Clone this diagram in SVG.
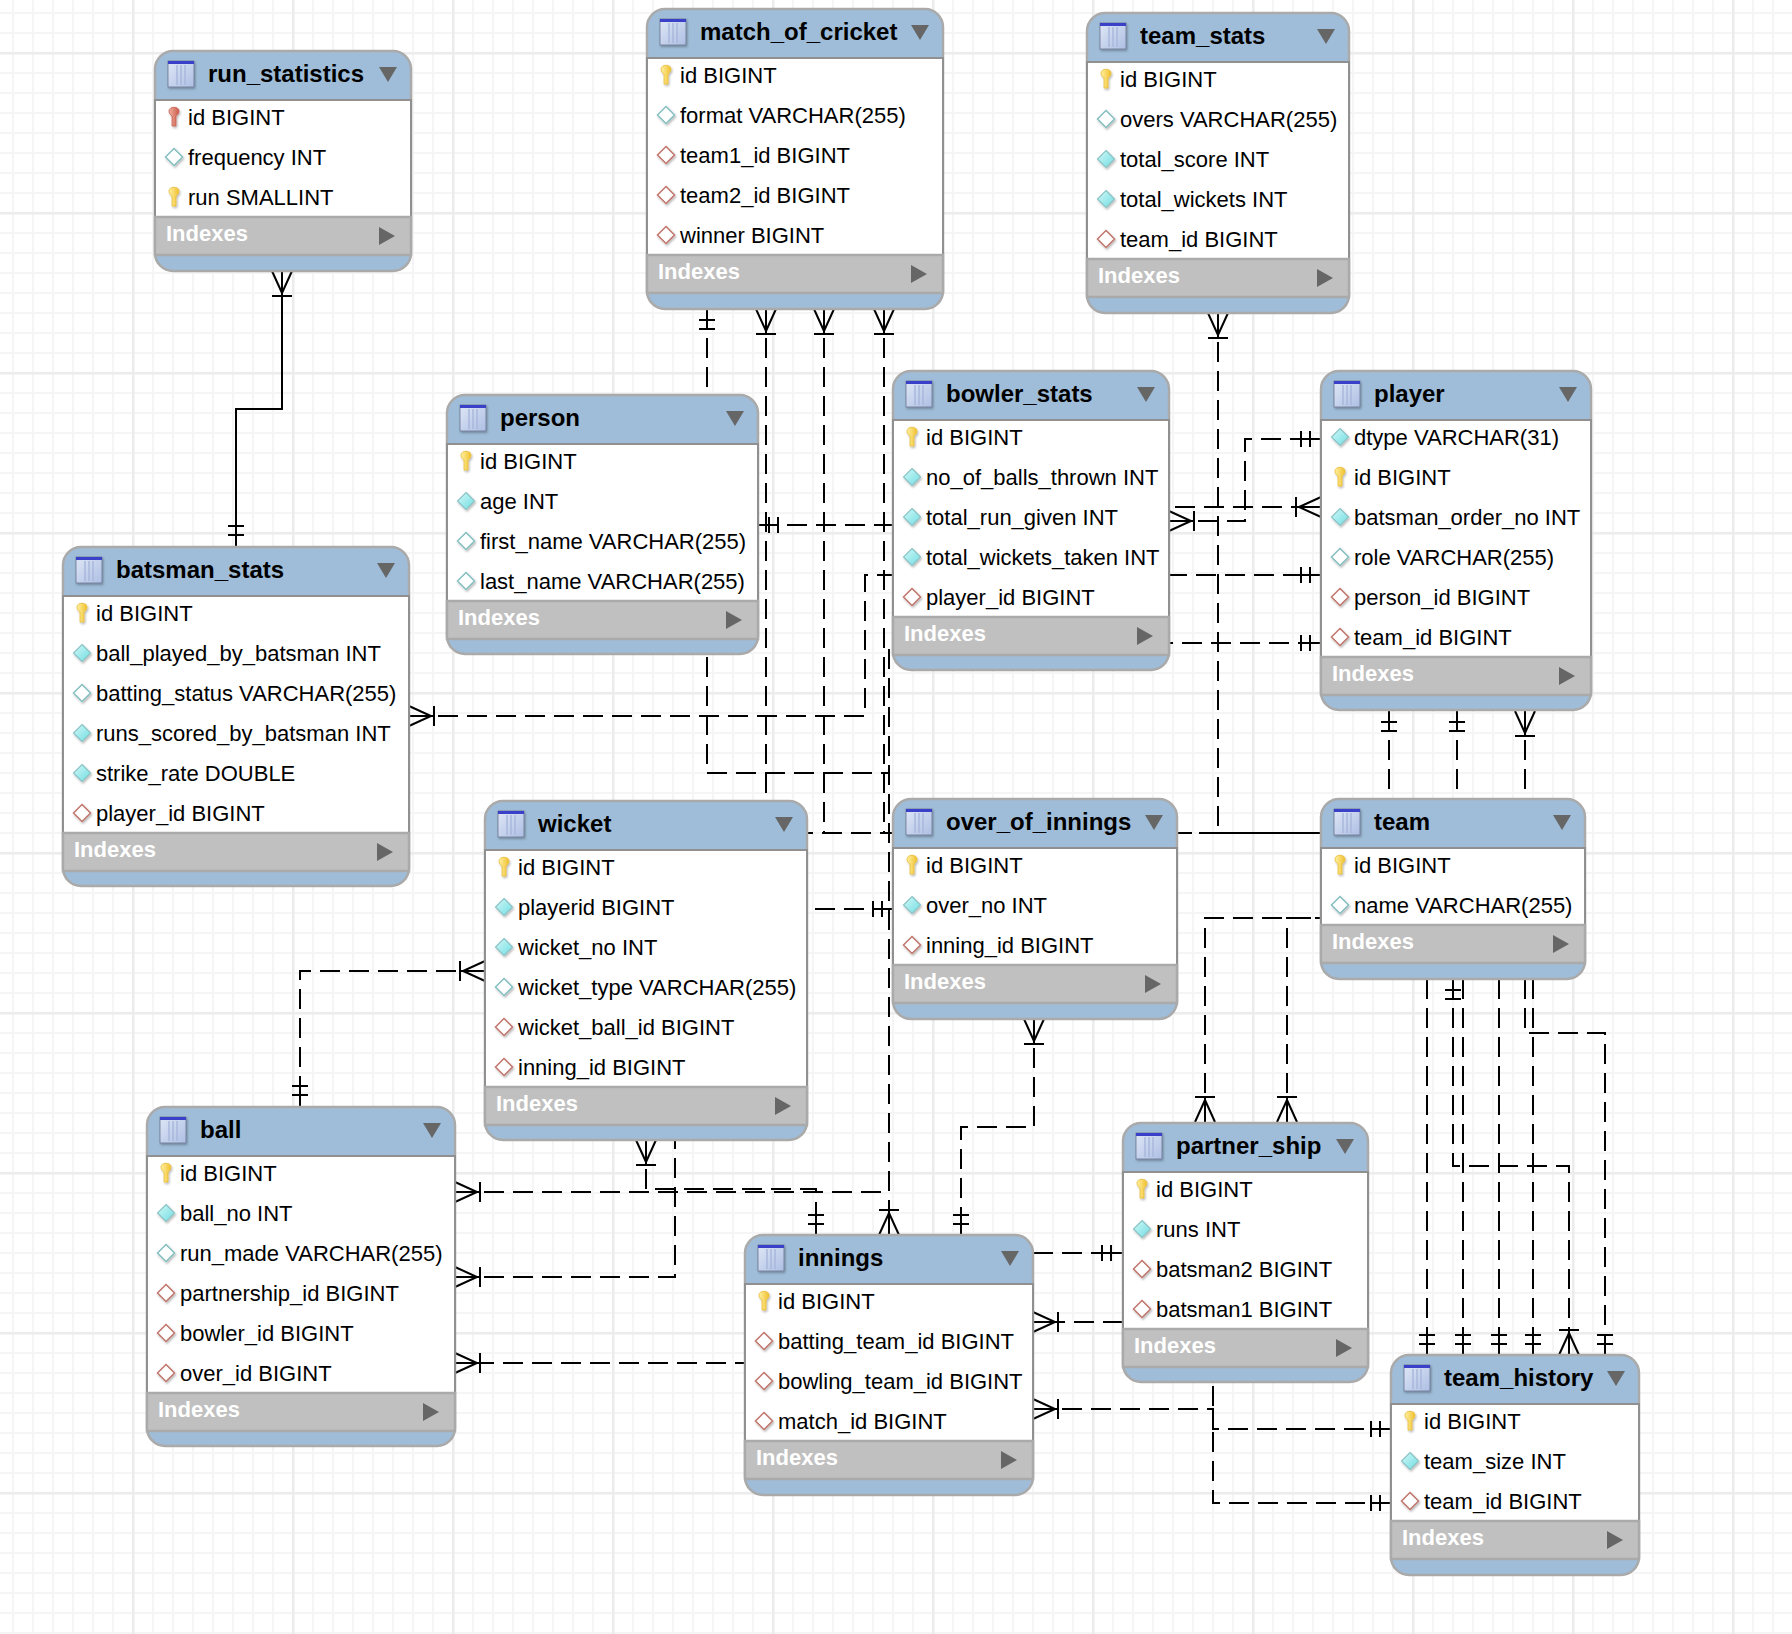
<svg xmlns="http://www.w3.org/2000/svg" width="1792" height="1634" viewBox="0 0 1792 1634">
<style>
.blue{fill:#9fbdd8;stroke:#aaaaaa;stroke-width:2.5}
.body{fill:#fff;stroke:#909090;stroke-width:2}
.idx{fill:#c0c0c0;stroke:#aaaaaa;stroke-width:2.5}
.t{font-family:"Liberation Sans",Arial,sans-serif;font-weight:bold;font-size:24px;fill:#000}
.r{font-family:"Liberation Sans",Arial,sans-serif;font-size:22px;fill:#000}
.x{font-family:"Liberation Sans",Arial,sans-serif;font-weight:bold;font-size:22px;fill:#fff}
.tri{fill:#666}
.c{fill:none;stroke:#000;stroke-width:2;stroke-dasharray:20 9}
.sol{fill:none;stroke:#000;stroke-width:2}
.mk{fill:none;stroke:#000;stroke-width:2}
</style>
<defs>
<pattern id="minor" patternUnits="userSpaceOnUse" x="12" y="12" width="20" height="20"><rect width="20" height="2" fill="#f5f5f5"/><rect width="2" height="20" fill="#f5f5f5"/></pattern>
<pattern id="major" patternUnits="userSpaceOnUse" x="132" y="52" width="160" height="160"><rect width="160" height="2.5" fill="#ececec"/><rect width="2.5" height="160" fill="#ececec"/></pattern>
<filter id="soft" x="-30%" y="-30%" width="170%" height="170%"><feDropShadow dx="1" dy="1.5" stdDeviation="1" flood-color="#000" flood-opacity=".3"/></filter>
<marker id="one" markerUnits="userSpaceOnUse" orient="auto-start-reverse" refX="0" refY="0" markerWidth="40" markerHeight="40" overflow="visible"><path class="mk" d="M0 0H-20M-11 -8V8M-20 -8V8"/></marker>
<marker id="many" markerUnits="userSpaceOnUse" orient="auto-start-reverse" refX="0" refY="0" markerWidth="40" markerHeight="40" overflow="visible"><path class="mk" d="M0 -10L-22 0L0 10M0 0H-25M-25 -10V10"/></marker>
<linearGradient id="ig" x1="0" y1="0" x2="1" y2="1"><stop offset="0" stop-color="#dfe7f6"/><stop offset="1" stop-color="#aebfe4"/></linearGradient>
<linearGradient id="kg" x1="0" y1="0" x2="1" y2="0"><stop offset="0" stop-color="#fff0a0"/><stop offset="1" stop-color="#f0c030"/></linearGradient>
<linearGradient id="pg" x1="0" y1="0" x2="1" y2="0"><stop offset="0" stop-color="#eeb0a0"/><stop offset="1" stop-color="#cc5a48"/></linearGradient>
<linearGradient id="fg" x1="0" y1="0" x2="1" y2="1"><stop offset="0" stop-color="#d4f8f8"/><stop offset="1" stop-color="#6fdde2"/></linearGradient>
<g id="tbl" filter="url(#soft)"><rect width="26" height="26" fill="url(#ig)" stroke="#6a7490" stroke-width=".8"/><rect width="26" height="3" fill="#3a3fc8"/><path d="M9 4V24M13 4V24M17 4V24" stroke="#a9b8dc" stroke-width="1.5" fill="none"/></g>
<g id="key" filter="url(#soft)"><path d="M-5 -6C-5 -11 5 -11 5 -6C5 -3 3 -2 2 -1L2 9L-2 9L-2 -1C-3 -2 -5 -3 -5 -6Z" fill="url(#kg)" stroke="#e8bc38" stroke-width=".8"/></g>
<g id="pk" filter="url(#soft)"><path d="M-5 -6C-5 -11 5 -11 5 -6C5 -3 3 -2 2 -1L2 9L-2 9L-2 -1C-3 -2 -5 -3 -5 -6Z" fill="url(#pg)" stroke="#c86050" stroke-width=".8"/></g>
<path id="df" d="M0 -8.5L8.5 0L0 8.5L-8.5 0Z" fill="url(#fg)" stroke="#8cc4c6" stroke-width="1.2" filter="url(#soft)"/>
<path id="dh" d="M0 -8.5L8.5 0L0 8.5L-8.5 0Z" fill="#fff" stroke="#86bfc0" stroke-width="1.5" filter="url(#soft)"/>
<path id="dr" d="M0 -8.5L8.5 0L0 8.5L-8.5 0Z" fill="#fff" stroke="#c0766c" stroke-width="1.5" filter="url(#soft)"/>
</defs>
<rect width="1792" height="1634" fill="#fff"/>
<rect width="1792" height="1634" fill="url(#minor)"/>
<rect width="1792" height="1634" fill="url(#major)"/>

<g id="connectors">
<path class="sol" marker-start="url(#many)" marker-end="url(#one)" d="M282 271V409H236V546"/>
<path class="c" marker-start="url(#one)" marker-end="url(#many)" d="M707 309V773H889V1235"/>
<path class="c" marker-start="url(#many)" d="M766 309V833H1321"/>
<path class="c" marker-start="url(#many)" d="M824 309V833H1321"/>
<path class="c" marker-start="url(#many)" d="M884 309V833H1321"/>
<path class="c" marker-start="url(#many)" d="M1218 313V833H1321"/>
<path class="c" marker-start="url(#one)" marker-end="url(#many)" d="M758 525H1030V507H1321"/>
<path class="c" marker-start="url(#many)" marker-end="url(#one)" d="M1169 521H1245V439H1321"/>
<path class="c" marker-start="url(#many)" marker-end="url(#one)" d="M409 716H865V575H1321"/>
<path class="c" marker-start="url(#many)" marker-end="url(#one)" d="M455 1192H889V643H1321"/>
<path class="c" marker-start="url(#many)" d="M455 1277H675V1140"/>
<path class="c" marker-start="url(#many)" style="stroke-dashoffset:10" d="M455 1363H745"/>
<path class="c" marker-start="url(#many)" marker-end="url(#one)" d="M646 1140V1189H816V1235"/>
<path class="c" marker-start="url(#many)" marker-end="url(#one)" d="M1034 1019V1127H961V1235"/>
<path class="c" marker-end="url(#one)" d="M815 909H893"/>
<path class="c" marker-start="url(#many)" marker-end="url(#one)" d="M485 971H300V1106"/>
<path class="c" marker-end="url(#one)" d="M1033 1253H1122"/>
<path class="c" marker-start="url(#many)" marker-end="url(#one)" style="stroke-dashoffset:17" d="M1033 1322H1213V1429H1391"/>
<path class="c" marker-start="url(#many)" marker-end="url(#one)" d="M1033 1409H1213V1503H1391"/>
<path class="c" marker-start="url(#many)" d="M1205 1122V918H1321"/>
<path class="c" marker-start="url(#many)" d="M1287 1122V918H1321"/>
<path class="c" marker-start="url(#one)" d="M1389 711V799"/>
<path class="c" marker-start="url(#one)" d="M1457 711V799"/>
<path class="c" marker-start="url(#many)" d="M1525 711V799"/>
<path class="c" marker-end="url(#one)" d="M1427 979V1355"/>
<path class="c" marker-end="url(#one)" d="M1463 979V1355"/>
<path class="c" marker-end="url(#one)" d="M1499 979V1355"/>
<path class="c" marker-end="url(#one)" d="M1533 979V1355"/>
<path class="c" marker-start="url(#one)" marker-end="url(#many)" d="M1453 979V1166H1569V1355"/>
<path class="c" marker-end="url(#one)" d="M1525 979V1033H1605V1355"/>
</g>

<g id="run_statistics" transform="translate(155,51)">
<rect class="blue" width="256" height="220" rx="18"/><rect class="body" y="49" width="256" height="117"/><rect class="idx" y="166" width="256" height="38"/>
<use href="#tbl" x="13" y="10"/><text class="t" x="53" y="31">run_statistics</text><path class="tri" d="M224 16H242L233 31Z"/>
<use href="#pk" x="19" y="66"/><text class="r" x="33" y="74">id BIGINT</text>
<use href="#dh" x="19" y="106"/><text class="r" x="33" y="114">frequency INT</text>
<use href="#key" x="19" y="146"/><text class="r" x="33" y="154">run SMALLINT</text>
<text class="x" x="11" y="190">Indexes</text><path class="tri" d="M224 176L240 185L224 194Z"/>
</g>

<g id="match_of_cricket" transform="translate(647,9)">
<rect class="blue" width="296" height="300" rx="18"/><rect class="body" y="49" width="296" height="197"/><rect class="idx" y="246" width="296" height="38"/>
<use href="#tbl" x="13" y="10"/><text class="t" x="53" y="31">match_of_cricket</text><path class="tri" d="M264 16H282L273 31Z"/>
<use href="#key" x="19" y="66"/><text class="r" x="33" y="74">id BIGINT</text>
<use href="#dh" x="19" y="106"/><text class="r" x="33" y="114">format VARCHAR(255)</text>
<use href="#dr" x="19" y="146"/><text class="r" x="33" y="154">team1_id BIGINT</text>
<use href="#dr" x="19" y="186"/><text class="r" x="33" y="194">team2_id BIGINT</text>
<use href="#dr" x="19" y="226"/><text class="r" x="33" y="234">winner BIGINT</text>
<text class="x" x="11" y="270">Indexes</text><path class="tri" d="M264 256L280 265L264 274Z"/>
</g>

<g id="team_stats" transform="translate(1087,13)">
<rect class="blue" width="262" height="300" rx="18"/><rect class="body" y="49" width="262" height="197"/><rect class="idx" y="246" width="262" height="38"/>
<use href="#tbl" x="13" y="10"/><text class="t" x="53" y="31">team_stats</text><path class="tri" d="M230 16H248L239 31Z"/>
<use href="#key" x="19" y="66"/><text class="r" x="33" y="74">id BIGINT</text>
<use href="#dh" x="19" y="106"/><text class="r" x="33" y="114">overs VARCHAR(255)</text>
<use href="#df" x="19" y="146"/><text class="r" x="33" y="154">total_score INT</text>
<use href="#df" x="19" y="186"/><text class="r" x="33" y="194">total_wickets INT</text>
<use href="#dr" x="19" y="226"/><text class="r" x="33" y="234">team_id BIGINT</text>
<text class="x" x="11" y="270">Indexes</text><path class="tri" d="M230 256L246 265L230 274Z"/>
</g>

<g id="person" transform="translate(447,395)">
<rect class="blue" width="311" height="259" rx="18"/><rect class="body" y="49" width="311" height="157"/><rect class="idx" y="206" width="311" height="38"/>
<use href="#tbl" x="13" y="10"/><text class="t" x="53" y="31">person</text><path class="tri" d="M279 16H297L288 31Z"/>
<use href="#key" x="19" y="66"/><text class="r" x="33" y="74">id BIGINT</text>
<use href="#df" x="19" y="106"/><text class="r" x="33" y="114">age INT</text>
<use href="#dh" x="19" y="146"/><text class="r" x="33" y="154">first_name VARCHAR(255)</text>
<use href="#dh" x="19" y="186"/><text class="r" x="33" y="194">last_name VARCHAR(255)</text>
<text class="x" x="11" y="230">Indexes</text><path class="tri" d="M279 216L295 225L279 234Z"/>
</g>

<g id="bowler_stats" transform="translate(893,371)">
<rect class="blue" width="276" height="299" rx="18"/><rect class="body" y="49" width="276" height="197"/><rect class="idx" y="246" width="276" height="38"/>
<use href="#tbl" x="13" y="10"/><text class="t" x="53" y="31">bowler_stats</text><path class="tri" d="M244 16H262L253 31Z"/>
<use href="#key" x="19" y="66"/><text class="r" x="33" y="74">id BIGINT</text>
<use href="#df" x="19" y="106"/><text class="r" x="33" y="114">no_of_balls_thrown INT</text>
<use href="#df" x="19" y="146"/><text class="r" x="33" y="154">total_run_given INT</text>
<use href="#df" x="19" y="186"/><text class="r" x="33" y="194">total_wickets_taken INT</text>
<use href="#dr" x="19" y="226"/><text class="r" x="33" y="234">player_id BIGINT</text>
<text class="x" x="11" y="270">Indexes</text><path class="tri" d="M244 256L260 265L244 274Z"/>
</g>

<g id="player" transform="translate(1321,371)">
<rect class="blue" width="270" height="339" rx="18"/><rect class="body" y="49" width="270" height="237"/><rect class="idx" y="286" width="270" height="38"/>
<use href="#tbl" x="13" y="10"/><text class="t" x="53" y="31">player</text><path class="tri" d="M238 16H256L247 31Z"/>
<use href="#df" x="19" y="66"/><text class="r" x="33" y="74">dtype VARCHAR(31)</text>
<use href="#key" x="19" y="106"/><text class="r" x="33" y="114">id BIGINT</text>
<use href="#df" x="19" y="146"/><text class="r" x="33" y="154">batsman_order_no INT</text>
<use href="#dh" x="19" y="186"/><text class="r" x="33" y="194">role VARCHAR(255)</text>
<use href="#dr" x="19" y="226"/><text class="r" x="33" y="234">person_id BIGINT</text>
<use href="#dr" x="19" y="266"/><text class="r" x="33" y="274">team_id BIGINT</text>
<text class="x" x="11" y="310">Indexes</text><path class="tri" d="M238 296L254 305L238 314Z"/>
</g>

<g id="batsman_stats" transform="translate(63,547)">
<rect class="blue" width="346" height="339" rx="18"/><rect class="body" y="49" width="346" height="237"/><rect class="idx" y="286" width="346" height="38"/>
<use href="#tbl" x="13" y="10"/><text class="t" x="53" y="31">batsman_stats</text><path class="tri" d="M314 16H332L323 31Z"/>
<use href="#key" x="19" y="66"/><text class="r" x="33" y="74">id BIGINT</text>
<use href="#df" x="19" y="106"/><text class="r" x="33" y="114">ball_played_by_batsman INT</text>
<use href="#dh" x="19" y="146"/><text class="r" x="33" y="154">batting_status VARCHAR(255)</text>
<use href="#df" x="19" y="186"/><text class="r" x="33" y="194">runs_scored_by_batsman INT</text>
<use href="#df" x="19" y="226"/><text class="r" x="33" y="234">strike_rate DOUBLE</text>
<use href="#dr" x="19" y="266"/><text class="r" x="33" y="274">player_id BIGINT</text>
<text class="x" x="11" y="310">Indexes</text><path class="tri" d="M314 296L330 305L314 314Z"/>
</g>

<g id="wicket" transform="translate(485,801)">
<rect class="blue" width="322" height="339" rx="18"/><rect class="body" y="49" width="322" height="237"/><rect class="idx" y="286" width="322" height="38"/>
<use href="#tbl" x="13" y="10"/><text class="t" x="53" y="31">wicket</text><path class="tri" d="M290 16H308L299 31Z"/>
<use href="#key" x="19" y="66"/><text class="r" x="33" y="74">id BIGINT</text>
<use href="#df" x="19" y="106"/><text class="r" x="33" y="114">playerid BIGINT</text>
<use href="#df" x="19" y="146"/><text class="r" x="33" y="154">wicket_no INT</text>
<use href="#dh" x="19" y="186"/><text class="r" x="33" y="194">wicket_type VARCHAR(255)</text>
<use href="#dr" x="19" y="226"/><text class="r" x="33" y="234">wicket_ball_id BIGINT</text>
<use href="#dr" x="19" y="266"/><text class="r" x="33" y="274">inning_id BIGINT</text>
<text class="x" x="11" y="310">Indexes</text><path class="tri" d="M290 296L306 305L290 314Z"/>
</g>

<g id="over_of_innings" transform="translate(893,799)">
<rect class="blue" width="284" height="220" rx="18"/><rect class="body" y="49" width="284" height="117"/><rect class="idx" y="166" width="284" height="38"/>
<use href="#tbl" x="13" y="10"/><text class="t" x="53" y="31">over_of_innings</text><path class="tri" d="M252 16H270L261 31Z"/>
<use href="#key" x="19" y="66"/><text class="r" x="33" y="74">id BIGINT</text>
<use href="#df" x="19" y="106"/><text class="r" x="33" y="114">over_no INT</text>
<use href="#dr" x="19" y="146"/><text class="r" x="33" y="154">inning_id BIGINT</text>
<text class="x" x="11" y="190">Indexes</text><path class="tri" d="M252 176L268 185L252 194Z"/>
</g>

<g id="team" transform="translate(1321,799)">
<rect class="blue" width="264" height="180" rx="18"/><rect class="body" y="49" width="264" height="77"/><rect class="idx" y="126" width="264" height="38"/>
<use href="#tbl" x="13" y="10"/><text class="t" x="53" y="31">team</text><path class="tri" d="M232 16H250L241 31Z"/>
<use href="#key" x="19" y="66"/><text class="r" x="33" y="74">id BIGINT</text>
<use href="#dh" x="19" y="106"/><text class="r" x="33" y="114">name VARCHAR(255)</text>
<text class="x" x="11" y="150">Indexes</text><path class="tri" d="M232 136L248 145L232 154Z"/>
</g>

<g id="ball" transform="translate(147,1107)">
<rect class="blue" width="308" height="339" rx="18"/><rect class="body" y="49" width="308" height="237"/><rect class="idx" y="286" width="308" height="38"/>
<use href="#tbl" x="13" y="10"/><text class="t" x="53" y="31">ball</text><path class="tri" d="M276 16H294L285 31Z"/>
<use href="#key" x="19" y="66"/><text class="r" x="33" y="74">id BIGINT</text>
<use href="#df" x="19" y="106"/><text class="r" x="33" y="114">ball_no INT</text>
<use href="#dh" x="19" y="146"/><text class="r" x="33" y="154">run_made VARCHAR(255)</text>
<use href="#dr" x="19" y="186"/><text class="r" x="33" y="194">partnership_id BIGINT</text>
<use href="#dr" x="19" y="226"/><text class="r" x="33" y="234">bowler_id BIGINT</text>
<use href="#dr" x="19" y="266"/><text class="r" x="33" y="274">over_id BIGINT</text>
<text class="x" x="11" y="310">Indexes</text><path class="tri" d="M276 296L292 305L276 314Z"/>
</g>

<g id="innings" transform="translate(745,1235)">
<rect class="blue" width="288" height="260" rx="18"/><rect class="body" y="49" width="288" height="157"/><rect class="idx" y="206" width="288" height="38"/>
<use href="#tbl" x="13" y="10"/><text class="t" x="53" y="31">innings</text><path class="tri" d="M256 16H274L265 31Z"/>
<use href="#key" x="19" y="66"/><text class="r" x="33" y="74">id BIGINT</text>
<use href="#dr" x="19" y="106"/><text class="r" x="33" y="114">batting_team_id BIGINT</text>
<use href="#dr" x="19" y="146"/><text class="r" x="33" y="154">bowling_team_id BIGINT</text>
<use href="#dr" x="19" y="186"/><text class="r" x="33" y="194">match_id BIGINT</text>
<text class="x" x="11" y="230">Indexes</text><path class="tri" d="M256 216L272 225L256 234Z"/>
</g>

<g id="partner_ship" transform="translate(1123,1123)">
<rect class="blue" width="245" height="259" rx="18"/><rect class="body" y="49" width="245" height="157"/><rect class="idx" y="206" width="245" height="38"/>
<use href="#tbl" x="13" y="10"/><text class="t" x="53" y="31">partner_ship</text><path class="tri" d="M213 16H231L222 31Z"/>
<use href="#key" x="19" y="66"/><text class="r" x="33" y="74">id BIGINT</text>
<use href="#df" x="19" y="106"/><text class="r" x="33" y="114">runs INT</text>
<use href="#dr" x="19" y="146"/><text class="r" x="33" y="154">batsman2 BIGINT</text>
<use href="#dr" x="19" y="186"/><text class="r" x="33" y="194">batsman1 BIGINT</text>
<text class="x" x="11" y="230">Indexes</text><path class="tri" d="M213 216L229 225L213 234Z"/>
</g>

<g id="team_history" transform="translate(1391,1355)">
<rect class="blue" width="248" height="220" rx="18"/><rect class="body" y="49" width="248" height="117"/><rect class="idx" y="166" width="248" height="38"/>
<use href="#tbl" x="13" y="10"/><text class="t" x="53" y="31">team_history</text><path class="tri" d="M216 16H234L225 31Z"/>
<use href="#key" x="19" y="66"/><text class="r" x="33" y="74">id BIGINT</text>
<use href="#df" x="19" y="106"/><text class="r" x="33" y="114">team_size INT</text>
<use href="#dr" x="19" y="146"/><text class="r" x="33" y="154">team_id BIGINT</text>
<text class="x" x="11" y="190">Indexes</text><path class="tri" d="M216 176L232 185L216 194Z"/>
</g>
</svg>
